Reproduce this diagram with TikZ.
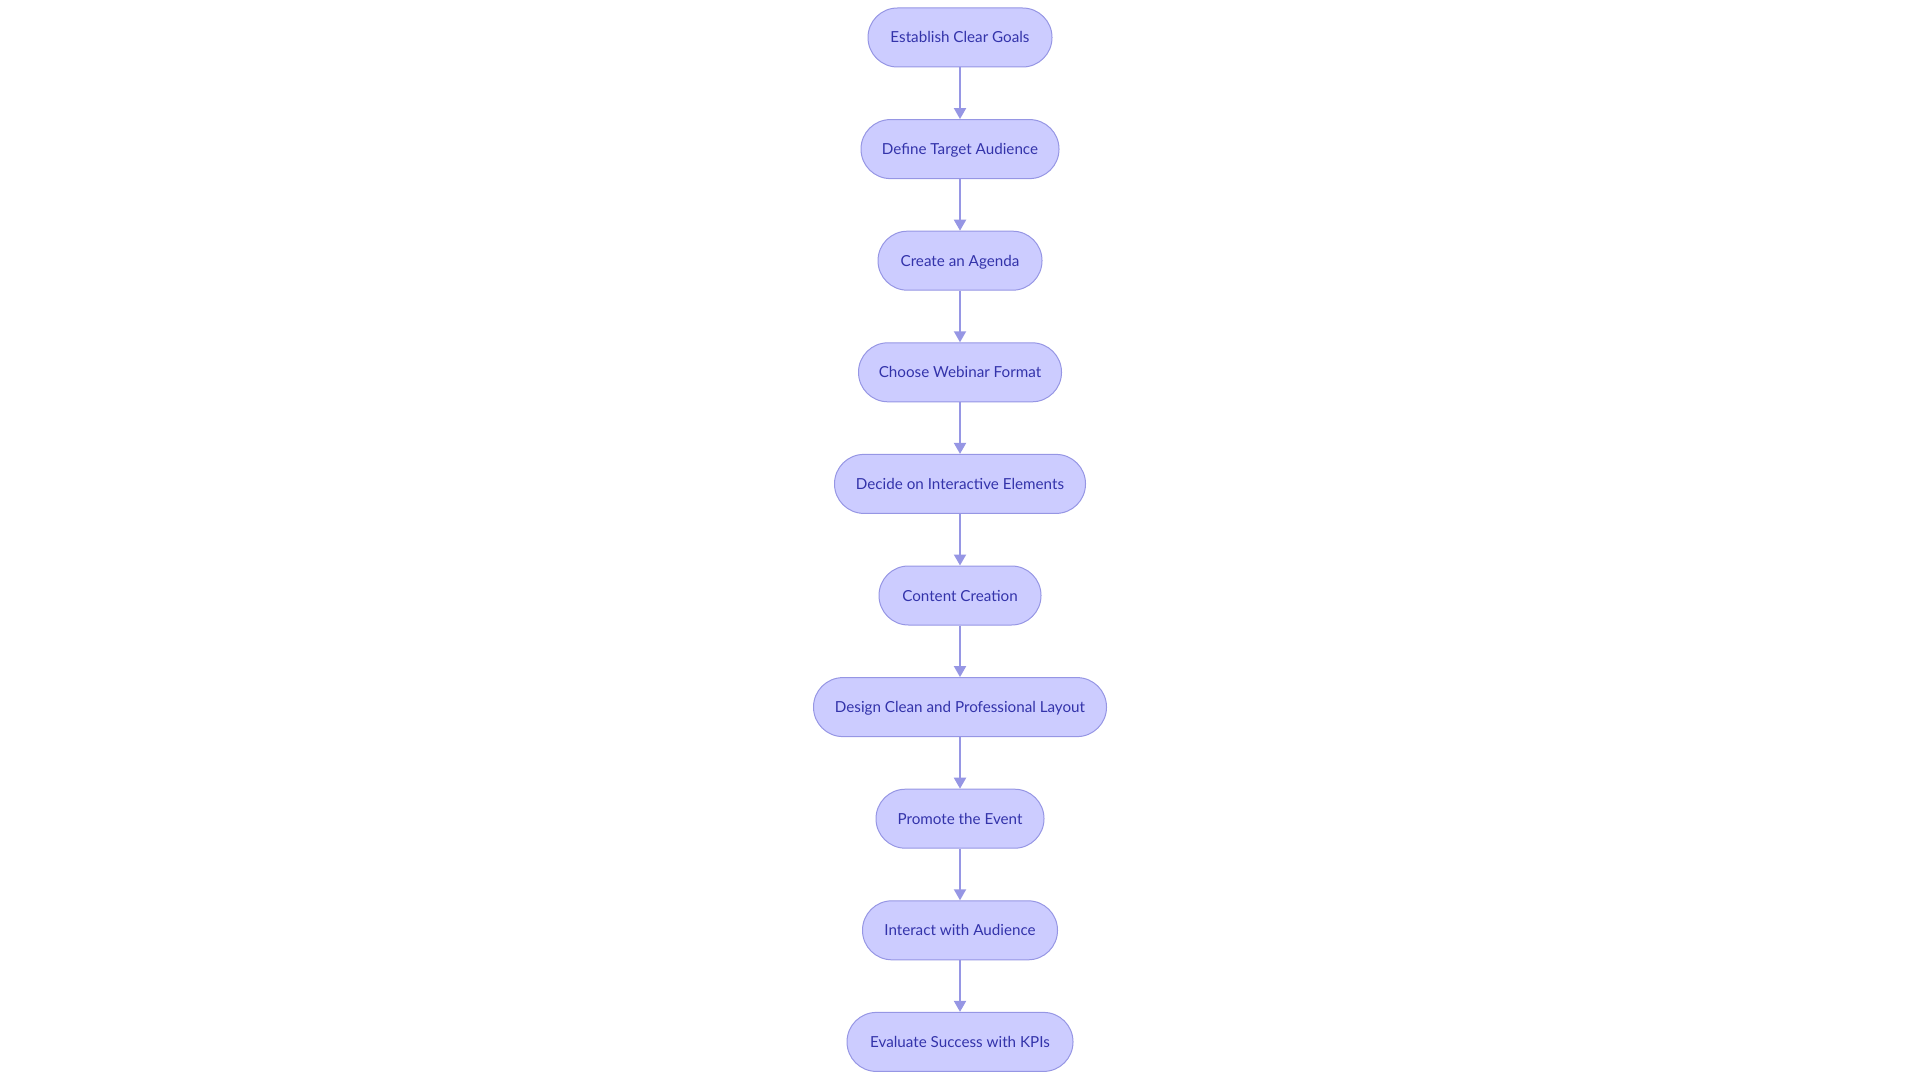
\documentclass[tikz,border=0pt]{standalone}
\usepackage{fontspec}
\setsansfont{Lato}
\usetikzlibrary{positioning, arrows.meta}

\definecolor{stepfill}{RGB}{204,204,255}
\definecolor{stepline}{RGB}{150,150,228}
\definecolor{steptext}{RGB}{51,51,170}

\begin{document}
\begin{tikzpicture}[font=\sffamily\fontsize{7.6pt}{9pt}\selectfont,
    node distance=25.8pt,
    stepbox/.style={draw=stepline, fill=stepfill, text=steptext,
                    line width=0.5pt, rounded corners=14.7pt,
                    minimum height=29.5pt, inner xsep=0pt,
                    text height=5.5pt, text depth=0pt}]

    \useasboundingbox (0,0) rectangle (960pt,-540pt);

    % Add the steps
    \node[stepbox, minimum width=92pt] at (480pt,-18.75pt) (goals)    {Establish Clear Goals};
    \node[stepbox, minimum width=99pt,    below=of goals]    (audience) {Define Target Audience};
    \node[stepbox, minimum width=82pt,    below=of audience] (agenda)   {Create an Agenda};
    \node[stepbox, minimum width=101.5pt, below=of agenda]   (format)   {Choose Webinar Format};
    \node[stepbox, minimum width=125.5pt, below=of format]   (interact) {Decide on Interactive Elements};
    \node[stepbox, minimum width=81pt,    below=of interact] (content)  {Content Creation};
    \node[stepbox, minimum width=146.5pt, below=of content]  (layout)   {Design Clean and Professional Layout};
    \node[stepbox, minimum width=84pt,    below=of layout]   (promote)  {Promote the Event};
    \node[stepbox, minimum width=97.5pt,  below=of promote]  (engage)   {Interact with Audience};
    \node[stepbox, minimum width=113pt,   below=of engage]   (kpis)     {Evaluate Success with KPIs};

    % Connect the steps with arrows
    \draw[line width=1pt,
          color=stepline,
          every edge/.style={draw=stepline},
          -{Triangle[length=5.5pt, width=6pt]}]
        (goals)    edge (audience)
        (audience) edge (agenda)
        (agenda)   edge (format)
        (format)   edge (interact)
        (interact) edge (content)
        (content)  edge (layout)
        (layout)   edge (promote)
        (promote)  edge (engage)
        (engage)   edge (kpis);
\end{tikzpicture}
\end{document}
